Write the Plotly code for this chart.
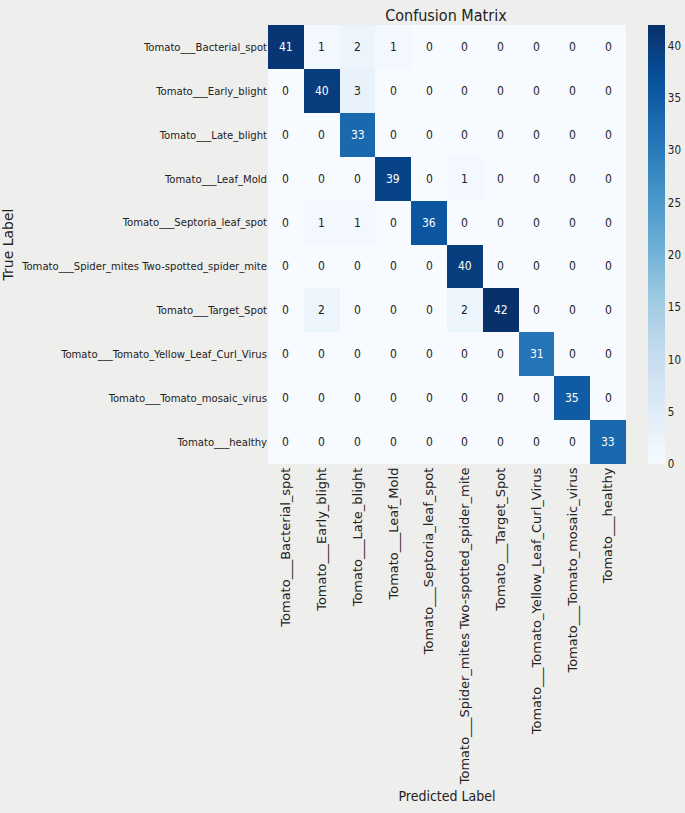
import plotly.graph_objects as go

classes = [
    "Tomato___Bacterial_spot",
    "Tomato___Early_blight",
    "Tomato___Late_blight",
    "Tomato___Leaf_Mold",
    "Tomato___Septoria_leaf_spot",
    "Tomato___Spider_mites Two-spotted_spider_mite",
    "Tomato___Target_Spot",
    "Tomato___Tomato_Yellow_Leaf_Curl_Virus",
    "Tomato___Tomato_mosaic_virus",
    "Tomato___healthy",
]

row_bacterial = [41, 1, 2, 1, 0, 0, 0, 0, 0, 0]
row_early = [0, 40, 3, 0, 0, 0, 0, 0, 0, 0]
row_late = [0, 0, 33, 0, 0, 0, 0, 0, 0, 0]
row_mold = [0, 0, 0, 39, 0, 1, 0, 0, 0, 0]
row_septoria = [0, 1, 1, 0, 36, 0, 0, 0, 0, 0]
row_spider = [0, 0, 0, 0, 0, 40, 0, 0, 0, 0]
row_target = [0, 2, 0, 0, 0, 2, 42, 0, 0, 0]
row_yellow = [0, 0, 0, 0, 0, 0, 0, 31, 0, 0]
row_mosaic = [0, 0, 0, 0, 0, 0, 0, 0, 35, 0]
row_healthy = [0, 0, 0, 0, 0, 0, 0, 0, 0, 33]

z = [row_bacterial, row_early, row_late, row_mold, row_septoria,
     row_spider, row_target, row_yellow, row_mosaic, row_healthy]

cb_ticks = [0, 5, 10, 15, 20, 25, 30, 35, 40]

bg = "#eeeeec"
txt = "#222222"
cond = "DejaVu Sans Condensed, DejaVu Sans"

fig = go.Figure(go.Heatmap(
    z=z, x=classes, y=classes,
    colorscale="Blues", zmin=0, zmax=42,
    showscale=True,
    colorbar=dict(
        thickness=17, len=1, lenmode="fraction", y=0.5, yanchor="middle",
        xref="container", x=648 / 685, xanchor="left", xpad=0, ypad=0, outlinewidth=0,
        tickvals=cb_ticks, ticks="", ticklen=0,
        tickfont=dict(family=cond, size=11.5, color=txt),
    ),
    hoverongaps=False,
))

annotations = []
for i, row in enumerate(z):
    for j, v in enumerate(row):
        annotations.append(dict(
            x=classes[j], y=classes[i], text=str(v), showarrow=False,
            font=dict(family=cond, size=12,
                      color="white" if v > 20 else txt),
        ))

fig.update_layout(
    width=685, height=813,
    paper_bgcolor=bg, plot_bgcolor=bg,
    margin=dict(l=268, r=59, t=25, b=349),
    title=dict(text="Confusion Matrix", x=0.651, xanchor="center", y=0.981, yanchor="middle",
               font=dict(family=cond, size=16, color=txt)),
    annotations=annotations,
    xaxis=dict(
        tickangle=-90, showgrid=False, zeroline=False, ticks="", automargin=False,
        tickfont=dict(family="DejaVu Sans", size=13, color=txt),
        title=dict(text="Predicted Label", standoff=6,
                   font=dict(family=cond, size=14, color=txt)),
    ),
    yaxis=dict(
        autorange="reversed", showgrid=False, zeroline=False, ticks="", automargin=False,
        tickfont=dict(family=cond, size=11.2, color=txt),
        title=dict(text="True Label", standoff=4,
                   font=dict(family="DejaVu Sans", size=14, color=txt)),
    ),
)

fig.write_html("out.html", config={"displayModeBar": False},
               post_script="document.body.style.margin='0px';")
